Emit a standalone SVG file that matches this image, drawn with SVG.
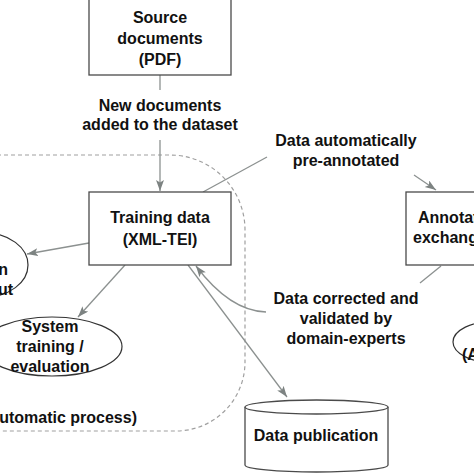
<svg xmlns="http://www.w3.org/2000/svg" width="474" height="474" viewBox="0 0 474 474">
<style>
.box{fill:#fff;stroke:#4a4a4a;stroke-width:1.3}
.ell{fill:#fff;stroke:#333;stroke-width:1.2}
.t{font-family:"Liberation Sans",Arial,sans-serif;font-weight:bold;font-size:16px;fill:#111;text-anchor:middle}
.ts{text-anchor:start}
.te{text-anchor:end}
.c{fill:none;stroke:#8c9190;stroke-width:1.3}
.dash{fill:none;stroke:#a0a0a0;stroke-width:1.2;stroke-dasharray:4 3}
</style>
<defs>
<marker id="ah" markerUnits="userSpaceOnUse" markerWidth="12" markerHeight="10" refX="11" refY="4" orient="auto">
<path d="M0,0 L11,4 L0,8 L2.5,4 Z" fill="#7d8382"/>
</marker>
</defs>
<rect width="474" height="474" fill="#fff"/>
<path class="dash" d="M-10,155 H170 A75,75 0 0 1 245,230 V362 A69,69 0 0 1 176,431 H-10"/>
<text class="t te" x="137" y="423">automatic process)</text>
<g id="connectors">
<line class="c" x1="160" y1="75" x2="160" y2="90"/>
<line class="c" x1="160" y1="140" x2="160" y2="191" marker-end="url(#ah)"/>
<line class="c" x1="203" y1="192" x2="267" y2="157"/>
<line class="c" x1="414" y1="175" x2="436" y2="190" marker-end="url(#ah)"/>
<line class="c" x1="441" y1="266" x2="420" y2="283"/>
<path class="c" d="M266,312 Q230,311 196,266" marker-end="url(#ah)"/>
<line class="c" x1="89" y1="243" x2="27" y2="254" marker-end="url(#ah)"/>
<line class="c" x1="125" y1="265" x2="78" y2="317" marker-end="url(#ah)"/>
<line class="c" x1="188" y1="265" x2="287" y2="397" marker-end="url(#ah)"/>
</g>
<g id="source">
<rect class="box" x="89" y="-2" width="142" height="77"/>
<text class="t" x="160" y="23">Source</text>
<text class="t" x="160" y="44">documents</text>
<text class="t" x="160" y="65">(PDF)</text>
</g>
<g id="label-new">
<text class="t" x="160" y="111">New documents</text>
<text class="t" x="160" y="130">added to the dataset</text>
</g>
<g id="training">
<rect class="box" x="89" y="192" width="142" height="73"/>
<text class="t" x="160" y="223">Training data</text>
<text class="t" x="160" y="245">(XML-TEI)</text>
</g>
<g id="label-pre">
<text class="t" x="346" y="146">Data automatically</text>
<text class="t" x="346" y="166">pre-annotated</text>
</g>
<g id="annotation">
<rect class="box" x="406" y="192" width="142" height="73"/>
<text class="t ts" x="418" y="223">Annotation</text>
<text class="t ts" x="413" y="243">exchange</text>
</g>
<g id="label-corrected">
<text class="t" x="346" y="304">Data corrected and</text>
<text class="t" x="346" y="324">validated by</text>
<text class="t" x="346" y="344">domain-experts</text>
</g>
<g id="left-ellipse">
<ellipse class="ell" cx="-15" cy="265" rx="43" ry="32"/>
<text class="t te" x="8" y="275">n</text>
<text class="t te" x="13" y="295">ut</text>
</g>
<g id="system">
<ellipse class="ell" cx="52" cy="346.5" rx="70" ry="29.5"/>
<text class="t" x="50" y="332">System</text>
<text class="t" x="50" y="352">training /</text>
<text class="t" x="50" y="372">evaluation</text>
</g>
<g id="right-ellipse">
<ellipse class="ell" cx="495" cy="342" rx="42" ry="21"/>
<text class="t ts" x="462" y="360">(A</text>
</g>
<g id="publication">
<path class="box" d="M245,407 V465 A71.5,7 0 0 0 388,465 V407"/>
<ellipse class="box" cx="316.5" cy="407" rx="71.5" ry="7"/>
<text class="t" x="316" y="441">Data publication</text>
</g>
</svg>
